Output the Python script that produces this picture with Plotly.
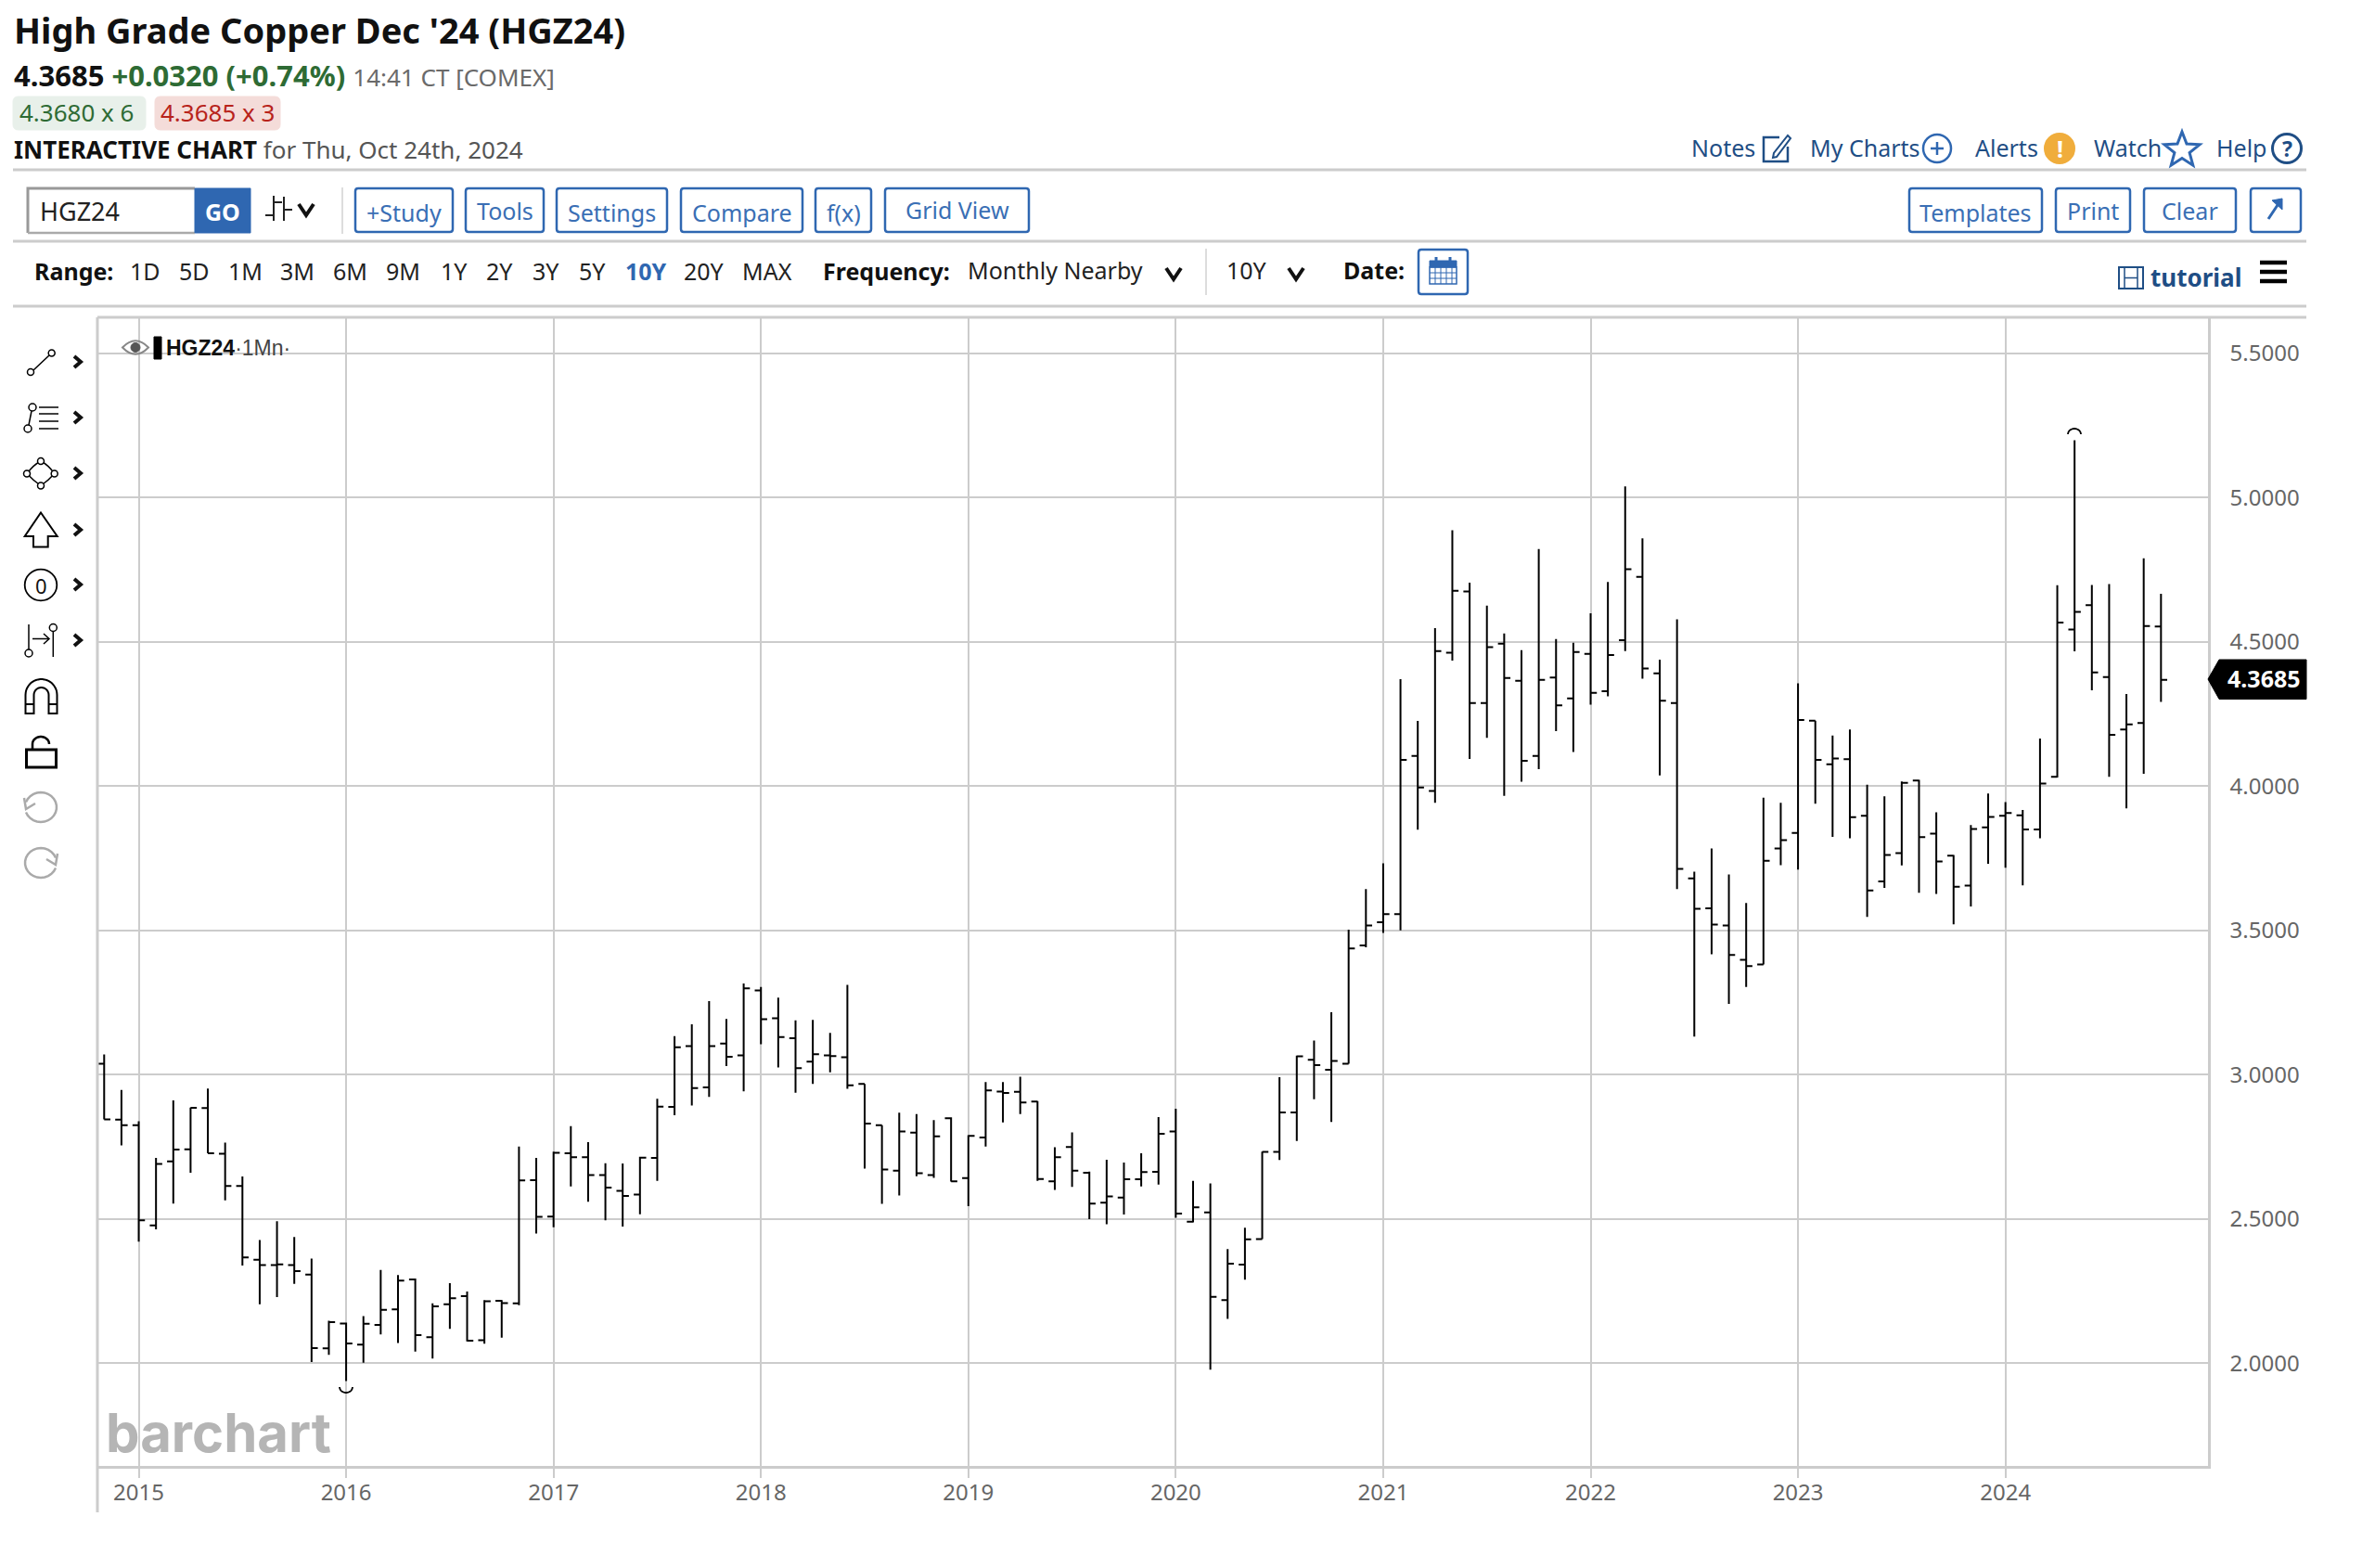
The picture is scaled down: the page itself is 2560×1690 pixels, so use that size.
import numpy as np
import pandas as pd
import plotly.graph_objects as go

# monthly OHLC for HGZ24
months = pd.date_range("2014-11-01", periods=120, freq="MS").strftime("%Y-%m").tolist()

opens = [3.038, 2.844,
    2.825, 2.477, 2.699, 2.741, 2.884, 2.726, 2.614, 2.358, 2.340, 2.340, 2.307, 2.051,
    2.137, 2.064, 2.132, 2.186, 2.290, 2.090, 2.204, 2.232, 2.079, 2.216, 2.207, 2.634,
    2.508, 2.727, 2.714, 2.652, 2.597, 2.584, 2.711, 2.888, 3.099, 2.956, 3.108, 3.067,
    3.292, 3.195, 3.126, 3.045, 3.067, 3.060, 2.968, 2.825, 2.667, 2.799, 2.652, 2.849,
    2.641, 2.782, 2.941, 2.940, 2.907, 2.630, 2.749, 2.660, 2.556, 2.574, 2.637, 2.663,
    2.803, 2.490, 2.522, 2.218, 2.341, 2.430, 2.732, 2.869, 3.051, 3.017, 3.038, 3.448,
    3.528, 3.556, 4.105, 3.983, 4.462, 4.675, 4.288, 4.494, 4.365, 4.105, 4.376, 4.304,
    4.458, 4.329, 4.506, 4.725, 4.391, 4.288, 3.680, 3.576, 3.517, 3.398, 3.382, 3.784,
    3.838, 4.227, 4.076, 4.093, 3.897, 3.670, 3.768, 4.019, 3.835, 3.759, 3.655, 3.857,
    3.897, 3.899, 3.850, 4.032, 4.543, 4.627, 4.378, 4.196, 4.219, 4.553]

highs = [3.070, 2.947,
    2.838, 2.711, 2.911, 2.886, 2.952, 2.764, 2.647, 2.427, 2.492, 2.437, 2.362, 2.147,
    2.140, 2.163, 2.323, 2.305, 2.293, 2.207, 2.277, 2.248, 2.218, 2.218, 2.751, 2.711,
    2.733, 2.821, 2.766, 2.693, 2.692, 2.715, 2.916, 3.133, 3.174, 3.255, 3.193, 3.316,
    3.304, 3.267, 3.188, 3.190, 3.145, 3.311, 2.968, 2.825, 2.868, 2.863, 2.842, 2.852,
    2.790, 2.974, 2.974, 2.993, 2.908, 2.748, 2.800, 2.664, 2.705, 2.695, 2.727, 2.853,
    2.882, 2.632, 2.623, 2.395, 2.469, 2.733, 2.991, 3.066, 3.118, 3.216, 3.502, 3.643,
    3.732, 4.371, 4.226, 4.548, 4.887, 4.705, 4.626, 4.529, 4.471, 4.822, 4.510, 4.497,
    4.599, 4.708, 5.039, 4.859, 4.438, 4.578, 3.703, 3.784, 3.694, 3.595, 3.960, 3.942,
    4.356, 4.227, 4.175, 4.196, 4.005, 3.965, 4.016, 4.022, 3.909, 3.761, 3.865, 3.974,
    3.945, 3.917, 4.165, 4.696, 5.199, 4.697, 4.700, 4.319, 4.790, 4.667]

lows = [2.845, 2.755,
    2.421, 2.464, 2.553, 2.660, 2.727, 2.564, 2.338, 2.204, 2.229, 2.275, 2.004, 2.029,
    1.938, 2.001, 2.099, 2.070, 2.040, 2.016, 2.119, 2.075, 2.067, 2.088, 2.201, 2.449,
    2.471, 2.612, 2.559, 2.495, 2.473, 2.516, 2.632, 2.859, 2.893, 2.923, 3.030, 2.942,
    3.105, 3.025, 2.937, 2.968, 3.008, 2.951, 2.674, 2.552, 2.581, 2.648, 2.642, 2.629,
    2.544, 2.751, 2.834, 2.863, 2.632, 2.600, 2.611, 2.499, 2.481, 2.515, 2.612, 2.619,
    2.504, 2.488, 1.977, 2.153, 2.289, 2.430, 2.704, 2.770, 2.915, 2.836, 3.038, 3.441,
    3.491, 3.500, 3.849, 3.942, 4.435, 4.094, 4.167, 3.966, 4.015, 4.059, 4.191, 4.118,
    4.282, 4.311, 4.468, 4.372, 4.037, 3.643, 3.132, 3.417, 3.245, 3.304, 3.382, 3.726,
    3.711, 3.939, 3.824, 3.819, 3.547, 3.647, 3.725, 3.630, 3.626, 3.521, 3.583, 3.731,
    3.717, 3.656, 3.819, 4.030, 4.467, 4.332, 4.032, 3.923, 4.043, 4.292]

closes = [2.845, 2.825,
    2.495, 2.690, 2.740, 2.885, 2.727, 2.614, 2.366, 2.340, 2.342, 2.319, 2.052, 2.142,
    2.068, 2.136, 2.185, 2.286, 2.097, 2.197, 2.225, 2.078, 2.214, 2.208, 2.633, 2.507,
    2.729, 2.714, 2.652, 2.608, 2.579, 2.712, 2.889, 3.095, 2.953, 3.099, 3.062, 3.299,
    3.192, 3.130, 3.022, 3.071, 3.064, 2.963, 2.830, 2.671, 2.803, 2.658, 2.786, 2.630,
    2.788, 2.945, 2.936, 2.903, 2.638, 2.714, 2.667, 2.553, 2.578, 2.637, 2.662, 2.795,
    2.518, 2.540, 2.230, 2.345, 2.429, 2.732, 2.869, 3.063, 3.033, 3.047, 3.437, 3.517,
    3.556, 4.091, 3.995, 4.468, 4.677, 4.288, 4.482, 4.375, 4.088, 4.368, 4.280, 4.465,
    4.323, 4.454, 4.752, 4.408, 4.296, 3.713, 3.575, 3.520, 3.415, 3.376, 3.741, 3.813,
    4.229, 4.091, 4.096, 3.892, 3.638, 3.761, 4.011, 3.823, 3.739, 3.651, 3.851, 3.893,
    3.907, 3.850, 4.009, 4.567, 4.604, 4.394, 4.178, 4.214, 4.555, 4.3685]

year_ticks = ["%d-01" % y for y in range(2015, 2025)]
year_labels = [str(y) for y in range(2015, 2025)]
price_ticks = [2.0, 2.5, 3.0, 3.5, 4.0, 4.5, 5.0, 5.5]

FONT = "Noto Sans"
GRID = "#cccccc"
BLUE = "#2f67b1"
NAVY = "#1f4e85"
GREEN = "#2e6b34"
RED = "#b8231b"

shapes = []
notes = []


# everything around the chart is placed in page pixels on a second hidden axis pair
def label(x, y, text, size=25, color="#222222", anchor="left", font=FONT):
    notes.append(dict(x=x, y=y - 1.5, xref="x2", yref="y2", text=text, showarrow=False,
                      xanchor=anchor, yanchor="middle", borderpad=0,
                      font=dict(family=font, size=size, color=color)))


def path(d, color="#000000", width=2, fill=None):
    shapes.append(dict(type="path", path=d, xref="x2", yref="y2", layer="above",
                       line=dict(color=color, width=width),
                       fillcolor=fill if fill else "rgba(0,0,0,0)"))


def line(x0, y0, x1, y1, color="#000000", width=2):
    shapes.append(dict(type="line", x0=x0, y0=y0, x1=x1, y1=y1, xref="x2", yref="y2",
                       layer="above", line=dict(color=color, width=width)))


def circle(cx, cy, rx, ry=None, color="#000000", width=2, fill=None):
    ry = rx if ry is None else ry
    shapes.append(dict(type="circle", x0=cx - rx, x1=cx + rx, y0=cy - ry, y1=cy + ry,
                       xref="x2", yref="y2", layer="above",
                       line=dict(color=color, width=width),
                       fillcolor=fill if fill else "rgba(0,0,0,0)"))


def poly(points, close=True):
    d = "M" + " L".join("%.1f,%.1f" % (p[0], p[1]) for p in points)
    return d + (" Z" if close else "")


def arc(cx, cy, rx, ry, a0, a1, n=24):
    t = np.radians(np.linspace(a0, a1, n))
    return list(zip(cx + rx * np.cos(t), cy + ry * np.sin(t)))


def box(x0, y0, x1, y1, r=4):
    return ("M%s,%s L%s,%s Q%s,%s %s,%s L%s,%s Q%s,%s %s,%s L%s,%s Q%s,%s %s,%s L%s,%s Q%s,%s %s,%s Z"
            % (x0 + r, y0, x1 - r, y0, x1, y0, x1, y0 + r, x1, y1 - r, x1, y1, x1 - r, y1,
               x0 + r, y1, x0, y1, x0, y1 - r, x0, y0 + r, x0, y0, x0 + r, y0))


def chevron_down(x, y, w=8, h=6):
    path(poly([(x - w, y - h), (x, y + h), (x + w, y - h)], close=False), "#111111", 4)


def chevron_right(x, y):
    path(poly([(x - 3, y - 6), (x + 4, y), (x - 3, y + 6)], close=False), "#111111", 4)


# header text
label(14, 33, "<b>High Grade Copper Dec '24 (HGZ24)</b>", 38, "#111111")
label(14, 82, "<b>4.3685</b> <span style='color:%s'><b>+0.0320 (+0.74%%)</b></span> "
      "<span style='color:#6a6a6a;font-size:26px'>14:41 CT [COMEX]</span>" % GREEN, 31, "#111111")
path(box(14, 104, 157, 140, 6), "#e8f0ea", 1, "#e8f0ea")
path(box(167, 104, 302, 140, 6), "#f4dcd9", 1, "#f4dcd9")
label(20, 122, "4.3680 x 6", 26, GREEN)
label(172, 122, "4.3685 x 3", 26, RED)
label(14, 162, "<b>INTERACTIVE CHART</b> <span style='color:#555555'>for Thu, Oct 24th, 2024</span>",
      26, "#111111")

for yy in [183, 260, 330]:
    line(14, yy, 2486, yy, GRID, 3)

# top right links
label(1822, 160, "Notes", 25, NAVY)
label(1950, 160, "My Charts", 25, NAVY)
label(2128, 160, "Alerts", 25, NAVY)
label(2256, 160, "Watch", 25, NAVY)
label(2388, 160, "Help", 25, NAVY)
path(poly([(1918, 148), (1901, 148), (1901, 174), (1927, 174), (1927, 158)], close=False), NAVY, 2.5)
path(poly([(1927, 146), (1930, 149), (1915, 169), (1911, 170), (1912, 165)]), NAVY, 2)
circle(2088, 160, 15, color=BLUE, width=2.5)
line(2081, 160, 2095, 160, BLUE, 2.5)
line(2088, 153, 2088, 167, BLUE, 2.5)
circle(2220, 160, 16, color="#f0ad3c", fill="#f0ad3c")
label(2220, 161, "<b>!</b>", 25, "#ffffff", "center")
star = []
for k in range(10):
    r = 20 if k % 2 == 0 else 8.5
    a = np.radians(-90 + 36 * k)
    star.append((2352 + r * np.cos(a), 162 + r * np.sin(a)))
path(poly(star), BLUE, 3)
circle(2465, 160, 15.5, color=NAVY, width=3)
label(2465, 161, "<b>?</b>", 23, NAVY, "center")

# toolbar row
path("M30,251 L30,203 L210,203", "#999999", 3)
path("M30,251 L210,251", "#aaaaaa", 2.5)
path("M210,203 L270,203 L270,251 L210,251 Z", BLUE, 1, BLUE)
label(42, 229, "HGZ24", 27, "#222222")
label(240, 229, "<b>GO</b>", 25, "#ffffff", "center")
line(295, 211, 295, 238, "#222222", 2)
line(306, 212, 306, 238, "#222222", 2)
line(286, 232, 295, 232, "#222222", 2)
line(295, 218, 304, 218, "#222222", 2)
line(306, 226, 315, 226, "#222222", 2)
chevron_down(330, 226)
line(369, 202, 369, 252, "#dddddd", 2)

toolbar_names = ["+Study", "Tools", "Settings", "Compare", "f(x)", "Grid View",
                 "Templates", "Print", "Clear"]
toolbar_left = [383, 502, 600, 734, 879, 954, 2058, 2216, 2311]
toolbar_right = [488, 586, 719, 865, 939, 1109, 2201, 2296, 2410]
toolbar_text_y = [230, 228, 230, 230, 230, 227, 230, 228, 228]
for name, x0, x1, ty in zip(toolbar_names, toolbar_left, toolbar_right, toolbar_text_y):
    path(box(x0, 203, x1, 250, 3), BLUE, 2.5)
    label((x0 + x1) / 2, ty, name, 25, "#3a6fb5", "center")
path(box(2426, 203, 2480, 250, 3), BLUE, 2.5)
line(2445, 236, 2457, 218, BLUE, 3)
path(poly([(2449, 216), (2460, 214), (2460, 226)]), BLUE, 1, BLUE)

# range row
label(36, 293, "<b>Range:</b>", 25, "#111111")
range_names = ["1D", "5D", "1M", "3M", "6M", "9M", "1Y", "2Y", "3Y", "5Y", "10Y", "20Y", "MAX"]
range_left = [139, 192, 245, 301, 358, 415, 474, 523, 573, 623, 673, 736, 799]
for name, x0 in zip(range_names, range_left):
    if name == "10Y":
        label(x0, 293, "<b>10Y</b>", 25, BLUE)
    else:
        label(x0, 293, name, 25, "#222222")
label(886, 293, "<b>Frequency:</b>", 25, "#111111")
label(1042, 292, "Monthly Nearby", 25, "#222222")
chevron_down(1265, 295)
line(1300, 268, 1300, 318, "#dddddd", 2)
label(1321, 292, "10Y", 25, "#222222")
chevron_down(1397, 295)
label(1447, 292, "<b>Date:</b>", 25, "#111111")
path(box(1529, 269, 1582, 317, 3), BLUE, 2.5)
path("M1541,281 L1570,281 L1570,288 L1541,288 Z", BLUE, 1, BLUE)
path("M1541,288 L1570,288 L1570,306 L1541,306 Z", BLUE, 1.5)
for xx in [1547, 1553, 1559, 1565]:
    line(xx, 288, xx, 306, BLUE, 1)
for yy in [294, 300]:
    line(1541, yy, 1570, yy, BLUE, 1)
line(1548, 277, 1548, 283, BLUE, 3)
line(1563, 277, 1563, 283, BLUE, 3)

path("M2284,288 L2310,288 L2310,311 L2284,311 Z", NAVY, 2)
for xx in [2290, 2304]:
    line(xx, 288, xx, 311, NAVY, 1.5)
line(2290, 299.5, 2304, 299.5, NAVY, 1.5)
label(2317, 300, "<b>tutorial</b>", 26, NAVY)
for yy in [283, 293, 303]:
    line(2436, yy, 2465, yy, "#000000", 4.5)

# drawing tools on the left
circle(33, 401, 3.5, width=1.5)
circle(55.7, 380.5, 3.5, width=1.5)
line(36, 399, 53, 383, width=1.5)
circle(30, 462, 4, width=1.5)
circle(35, 439, 4, width=1.5)
line(31, 458, 34, 443, width=1.5)
for yy in [439, 446, 454, 462]:
    line(42, yy, 63, yy, width=1.5)
path("M44,497 Q52,501 58.7,510.5 Q52,518 44,523.5 Q36,518 29,510.5 Q36,501 44,497", width=1.5)
for cx, cy in [(44, 497), (58.7, 510.5), (44, 523.5), (29, 510.5)]:
    circle(cx, cy, 3.5, width=1.5, fill="#ffffff")
path(poly([(44, 552.5), (61.7, 578), (51.7, 578), (51.7, 589.6), (36, 589.6), (36, 578), (26.7, 578)]), width=2)
circle(44, 630.5, 17.3, 16.8, width=1.8)
label(44, 632, "0", 22, "#111111", "center")
line(31, 673, 31, 700, width=1.5)
circle(31, 704, 4, width=1.5)
line(35, 688.5, 53, 688.5, width=1.5)
path(poly([(47, 683), (53, 688.5), (47, 694)], close=False), width=1.5)
line(57.3, 681, 57.3, 708, width=1.5)
circle(57.3, 676.5, 4, width=1.5)
path(poly([(27.5, 769)] + arc(44.5, 749, 17, 17, 180, 360) + [(61.5, 769), (52.5, 769)]
          + arc(44.5, 749, 8, 8, 360, 180) + [(36.5, 769)]), width=2)
line(27.5, 759, 36.5, 759, width=2)
line(52.5, 759, 61.5, 759, width=2)
path("M28.5,808 L60.5,808 L60.5,827 L28.5,827 Z", width=3)
path(poly([(35, 808)] + arc(44, 802, 9, 8, 180, 360), close=False), width=2.5)
path(poly(arc(44, 870, 17, 16, 200, 520), close=False), "#aaaaaa", 2.5)
path(poly([(26, 860), (28, 872), (38, 866)], close=False), "#aaaaaa", 2.5)
path(poly(arc(44, 930, 17, 16, 340, 20, n=24), close=False), "#aaaaaa", 2.5)
path(poly([(62, 920), (60, 932), (50, 926)], close=False), "#aaaaaa", 2.5)
for yy in [390, 450, 510, 571, 630, 690]:
    chevron_right(83, yy)

# chart frame, legend tag, extreme markers and last price
line(105, 342, 105, 1630, GRID, 3)
line(105, 342, 2486, 342, GRID, 3)
path("M132,374.5 Q146,360 160,374.5 Q146,389 132,374.5 Z", "#888888", 2)
circle(146, 374.5, 5, color="#555555", width=1, fill="#555555")
path("M166,363 L174,363 L174,387 L166,387 Z", "#000000", 1, "#000000")
label(178, 376, "<b>HGZ24</b><span style='color:#444444'>·1Mn·</span>", 23, "#111111",
      font="Liberation Sans")
path(poly(arc(373, 1495, 7, 6, 0, 180), close=False), "#000000", 1.8)
path(poly(arc(2236, 468, 7, 6, 180, 360), close=False), "#000000", 1.8)
path("M2380,732 L2392,711 L2486,711 L2486,753.5 L2392,753.5 Z", "#000000", 1, "#000000")
label(2440, 732, "<b>4.3685</b>", 25, "#ffffff", "center")
label(113, 1545, "<b>barchart</b>", 58, "#b5b5b5", font="Inter")

fig = go.Figure()
fig.add_trace(go.Ohlc(
    x=months, open=opens, high=highs, low=lows, close=closes,
    increasing=dict(line=dict(color="#000000", width=2)),
    decreasing=dict(line=dict(color="#000000", width=2)),
    tickwidth=0.36, xaxis="x", yaxis="y", showlegend=False,
))
# empty trace so the pixel axes exist
fig.add_trace(go.Scatter(x=[0], y=[0], mode="none", xaxis="x2", yaxis="y2",
                         showlegend=False, hoverinfo="skip"))

fig.update_layout(
    width=2560, height=1690, autosize=False,
    margin=dict(l=0, r=0, t=0, b=0),
    paper_bgcolor="#ffffff", plot_bgcolor="rgba(0,0,0,0)",
    font=dict(family=FONT, size=24, color="#666666"),
    shapes=shapes, annotations=notes,
    xaxis=dict(
        domain=[105 / 2560, 2380 / 2560], type="category",
        categoryorder="array", categoryarray=months,
        range=[-0.39, 121.72], rangeslider=dict(visible=False),
        tickmode="array", tickvals=year_ticks, ticktext=year_labels,
        showgrid=True, gridcolor=GRID, gridwidth=2,
        showline=True, linecolor=GRID, linewidth=2.5,
        ticks="outside", ticklen=10, tickcolor=GRID, tickwidth=2,
        ticklabelstandoff=-5,
        tickfont=dict(family=FONT, size=24, color="#666666"),
    ),
    yaxis=dict(
        domain=[1 - 1580 / 1690, 1 - 342 / 1690], side="right",
        range=[1.6435, 5.625], tickmode="array", tickvals=price_ticks,
        tickformat=".4f", showgrid=True, gridcolor=GRID, gridwidth=2,
        showline=True, linecolor=GRID, linewidth=2.5, zeroline=False,
        ticks="", ticklabelstandoff=16,
        tickfont=dict(family=FONT, size=24, color="#666666"),
    ),
    xaxis2=dict(domain=[0, 1], range=[0, 2560], visible=False, anchor="y2", fixedrange=True),
    yaxis2=dict(domain=[0, 1], range=[1690, 0], visible=False, anchor="x2", fixedrange=True),
)

fig.write_html("out.html", config=dict(displayModeBar=False),
               post_script="document.body.style.margin='0';document.body.style.overflow='hidden';")
